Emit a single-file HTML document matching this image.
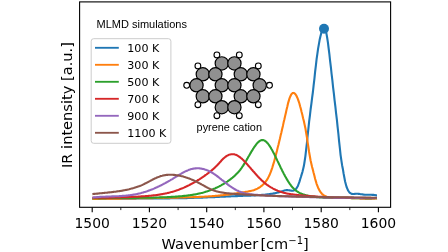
<!DOCTYPE html>
<html><head><meta charset="utf-8"><title>IR spectrum</title>
<style>
html,body{margin:0;padding:0;background:#fff;}
svg{display:block}
.dv{font-family:"DejaVu Sans","Liberation Sans",sans-serif;fill:#000}
.ar{font-family:"Liberation Sans","DejaVu Sans",sans-serif;fill:#000}
</style></head><body>
<svg width="448" height="252" viewBox="0 0 448 252">
<rect width="448" height="252" fill="#fff"/>
<path d="M92.4,199.0 L93.2,199.0 L93.9,199.0 L94.7,199.0 L95.4,198.9 L96.2,198.9 L96.9,198.9 L97.7,198.9 L98.4,198.9 L99.2,198.9 L99.9,198.9 L100.7,198.8 L101.4,198.8 L102.2,198.8 L102.9,198.8 L103.7,198.8 L104.4,198.8 L105.2,198.8 L105.9,198.8 L106.7,198.8 L107.4,198.7 L108.2,198.7 L108.9,198.7 L109.7,198.7 L110.4,198.7 L111.2,198.7 L111.9,198.7 L112.7,198.7 L113.4,198.7 L114.2,198.7 L114.9,198.7 L115.7,198.7 L116.4,198.7 L117.2,198.6 L117.9,198.6 L118.7,198.6 L119.4,198.6 L120.2,198.6 L120.9,198.6 L121.7,198.6 L122.4,198.6 L123.2,198.6 L123.9,198.6 L124.7,198.6 L125.4,198.6 L126.2,198.6 L126.9,198.6 L127.7,198.6 L128.4,198.6 L129.2,198.6 L129.9,198.6 L130.7,198.6 L131.4,198.6 L132.2,198.6 L132.9,198.6 L133.7,198.6 L134.4,198.6 L135.2,198.6 L135.9,198.6 L136.7,198.5 L137.4,198.5 L138.2,198.5 L138.9,198.5 L139.7,198.5 L140.4,198.5 L141.2,198.5 L141.9,198.5 L142.7,198.5 L143.4,198.5 L144.2,198.5 L144.9,198.5 L145.7,198.5 L146.4,198.5 L147.2,198.5 L147.9,198.5 L148.7,198.5 L149.4,198.5 L150.2,198.5 L150.9,198.5 L151.7,198.5 L152.4,198.5 L153.2,198.5 L153.9,198.5 L154.7,198.5 L155.4,198.5 L156.2,198.5 L156.9,198.5 L157.7,198.5 L158.4,198.5 L159.2,198.5 L159.9,198.4 L160.7,198.4 L161.4,198.4 L162.2,198.4 L162.9,198.4 L163.7,198.4 L164.4,198.4 L165.2,198.4 L165.9,198.4 L166.7,198.4 L167.4,198.4 L168.2,198.4 L168.9,198.4 L169.7,198.4 L170.4,198.3 L171.2,198.3 L171.9,198.3 L172.7,198.3 L173.4,198.3 L174.2,198.3 L174.9,198.3 L175.7,198.3 L176.4,198.3 L177.2,198.3 L177.9,198.2 L178.7,198.2 L179.4,198.2 L180.2,198.2 L180.9,198.2 L181.7,198.2 L182.4,198.2 L183.2,198.1 L183.9,198.1 L184.7,198.1 L185.4,198.1 L186.2,198.1 L186.9,198.1 L187.7,198.0 L188.4,198.0 L189.2,198.0 L189.9,198.0 L190.7,198.0 L191.4,197.9 L192.2,197.9 L192.9,197.9 L193.7,197.9 L194.4,197.8 L195.2,197.8 L195.9,197.8 L196.7,197.8 L197.4,197.7 L198.2,197.7 L198.9,197.7 L199.7,197.7 L200.4,197.6 L201.2,197.6 L201.9,197.6 L202.7,197.6 L203.4,197.5 L204.2,197.5 L204.9,197.5 L205.7,197.4 L206.4,197.4 L207.2,197.4 L207.9,197.3 L208.7,197.3 L209.4,197.3 L210.2,197.2 L210.9,197.2 L211.7,197.2 L212.4,197.2 L213.2,197.1 L213.9,197.1 L214.7,197.1 L215.4,197.0 L216.2,197.0 L216.9,197.0 L217.7,196.9 L218.4,196.9 L219.2,196.9 L219.9,196.8 L220.7,196.8 L221.4,196.8 L222.2,196.7 L222.9,196.7 L223.7,196.7 L224.4,196.6 L225.2,196.6 L225.9,196.5 L226.7,196.5 L227.4,196.5 L228.2,196.4 L228.9,196.4 L229.7,196.4 L230.4,196.4 L231.2,196.3 L231.9,196.3 L232.7,196.3 L233.4,196.2 L234.2,196.2 L234.9,196.2 L235.7,196.1 L236.4,196.1 L237.2,196.1 L237.9,196.0 L238.7,196.0 L239.4,196.0 L240.2,195.9 L240.9,195.9 L241.7,195.9 L242.4,195.9 L243.2,195.8 L243.9,195.8 L244.7,195.8 L245.4,195.8 L246.2,195.7 L246.9,195.7 L247.7,195.7 L248.4,195.7 L249.2,195.6 L249.9,195.6 L250.7,195.6 L251.4,195.5 L252.2,195.5 L252.9,195.5 L253.7,195.4 L254.4,195.4 L255.2,195.4 L255.9,195.3 L256.6,195.3 L257.4,195.3 L258.1,195.2 L258.9,195.2 L259.6,195.1 L260.4,195.1 L261.1,195.0 L261.9,194.9 L262.6,194.9 L263.4,194.8 L264.1,194.7 L264.9,194.7 L265.6,194.6 L266.4,194.5 L267.1,194.4 L267.9,194.3 L268.6,194.2 L269.4,194.1 L270.1,194.0 L270.9,193.9 L271.6,193.8 L272.4,193.7 L273.1,193.5 L273.9,193.4 L274.6,193.3 L275.4,193.1 L276.1,192.9 L276.9,192.8 L277.6,192.6 L278.4,192.4 L279.1,192.2 L279.9,192.0 L280.6,191.7 L281.4,191.5 L282.1,191.2 L282.9,191.0 L283.6,190.7 L284.4,190.5 L285.1,190.3 L285.9,190.2 L286.6,190.1 L287.4,190.1 L288.1,190.2 L288.9,190.3 L289.6,190.4 L290.4,190.5 L291.1,190.6 L291.9,190.7 L292.6,190.7 L293.4,190.6 L294.1,190.4 L294.9,190.0 L295.6,189.4 L296.4,188.5 L297.1,187.3 L297.9,185.9 L298.6,184.0 L299.4,181.9 L300.1,179.5 L300.9,177.0 L301.6,174.6 L302.4,172.1 L303.1,169.2 L303.9,165.8 L304.6,161.5 L305.4,156.1 L306.1,149.9 L306.9,143.0 L307.6,135.8 L308.4,128.7 L309.1,121.9 L309.9,115.6 L310.6,109.5 L311.4,103.7 L312.1,97.9 L312.9,92.0 L313.6,85.6 L314.4,78.8 L315.1,71.9 L315.9,65.3 L316.6,59.2 L317.4,53.6 L318.1,48.6 L318.9,44.1 L319.6,40.1 L320.4,36.6 L321.1,33.7 L321.9,31.3 L322.6,29.5 L323.4,28.4 L324.1,28.2 L324.9,28.9 L325.6,30.6 L326.4,33.4 L327.1,37.3 L327.9,42.3 L328.6,48.0 L329.4,54.3 L330.1,60.8 L330.9,67.3 L331.6,74.0 L332.4,80.6 L333.1,87.3 L333.9,93.9 L334.6,100.4 L335.4,106.9 L336.1,113.3 L336.9,119.9 L337.6,126.8 L338.4,134.0 L339.1,141.4 L339.9,148.5 L340.6,155.1 L341.4,160.7 L342.1,165.2 L342.9,169.2 L343.6,173.5 L344.4,177.8 L345.1,181.5 L345.9,184.5 L346.6,187.0 L347.4,188.9 L348.1,190.5 L348.9,191.7 L349.6,192.6 L350.4,193.2 L351.1,193.6 L351.9,193.9 L352.6,194.0 L353.4,194.0 L354.1,194.0 L354.9,193.9 L355.6,193.8 L356.4,193.7 L357.1,193.7 L357.9,193.8 L358.6,193.9 L359.4,193.9 L360.1,194.1 L360.9,194.2 L361.6,194.3 L362.4,194.4 L363.1,194.5 L363.9,194.6 L364.6,194.7 L365.4,194.8 L366.1,194.8 L366.9,194.8 L367.6,194.8 L368.4,194.8 L369.1,194.8 L369.9,194.8 L370.6,194.8 L371.4,194.8 L372.1,194.9 L372.9,194.9 L373.6,194.9 L374.4,195.0 L375.1,195.1 L375.9,195.2 L376.6,195.4 L377.0,195.4" fill="none" stroke="#1f77b4" stroke-width="2.1" stroke-linejoin="round" stroke-linecap="butt"/>
<path d="M92.4,198.9 L93.2,198.9 L93.9,198.9 L94.7,198.9 L95.4,198.9 L96.2,198.9 L96.9,198.9 L97.7,198.9 L98.4,198.8 L99.2,198.8 L99.9,198.8 L100.7,198.8 L101.4,198.8 L102.2,198.8 L102.9,198.8 L103.7,198.8 L104.4,198.8 L105.2,198.8 L105.9,198.8 L106.7,198.7 L107.4,198.7 L108.2,198.7 L108.9,198.7 L109.7,198.7 L110.4,198.7 L111.2,198.7 L111.9,198.7 L112.7,198.7 L113.4,198.7 L114.2,198.6 L114.9,198.6 L115.7,198.6 L116.4,198.6 L117.2,198.6 L117.9,198.6 L118.7,198.6 L119.4,198.6 L120.2,198.6 L120.9,198.6 L121.7,198.5 L122.4,198.5 L123.2,198.5 L123.9,198.5 L124.7,198.5 L125.4,198.5 L126.2,198.5 L126.9,198.5 L127.7,198.5 L128.4,198.5 L129.2,198.4 L129.9,198.4 L130.7,198.4 L131.4,198.4 L132.2,198.4 L132.9,198.4 L133.7,198.4 L134.4,198.4 L135.2,198.4 L135.9,198.3 L136.7,198.3 L137.4,198.3 L138.2,198.3 L138.9,198.3 L139.7,198.3 L140.4,198.3 L141.2,198.3 L141.9,198.3 L142.7,198.2 L143.4,198.2 L144.2,198.2 L144.9,198.2 L145.7,198.2 L146.4,198.2 L147.2,198.2 L147.9,198.2 L148.7,198.1 L149.4,198.1 L150.2,198.1 L150.9,198.1 L151.7,198.1 L152.4,198.1 L153.2,198.1 L153.9,198.0 L154.7,198.0 L155.4,198.0 L156.2,198.0 L156.9,198.0 L157.7,198.0 L158.4,198.0 L159.2,197.9 L159.9,197.9 L160.7,197.9 L161.4,197.9 L162.2,197.9 L162.9,197.9 L163.7,197.9 L164.4,197.8 L165.2,197.8 L165.9,197.8 L166.7,197.8 L167.4,197.8 L168.2,197.8 L168.9,197.8 L169.7,197.7 L170.4,197.7 L171.2,197.7 L171.9,197.7 L172.7,197.7 L173.4,197.7 L174.2,197.6 L174.9,197.6 L175.7,197.6 L176.4,197.6 L177.2,197.6 L177.9,197.6 L178.7,197.5 L179.4,197.5 L180.2,197.5 L180.9,197.5 L181.7,197.5 L182.4,197.4 L183.2,197.4 L183.9,197.4 L184.7,197.4 L185.4,197.4 L186.2,197.3 L186.9,197.3 L187.7,197.3 L188.4,197.3 L189.2,197.3 L189.9,197.2 L190.7,197.2 L191.4,197.2 L192.2,197.2 L192.9,197.1 L193.7,197.1 L194.4,197.1 L195.2,197.1 L195.9,197.0 L196.7,197.0 L197.4,197.0 L198.2,197.0 L198.9,196.9 L199.7,196.9 L200.4,196.9 L201.2,196.8 L201.9,196.8 L202.7,196.7 L203.4,196.7 L204.2,196.7 L204.9,196.6 L205.7,196.6 L206.4,196.5 L207.2,196.5 L207.9,196.5 L208.7,196.4 L209.4,196.4 L210.2,196.3 L210.9,196.3 L211.7,196.2 L212.4,196.1 L213.2,196.1 L213.9,196.0 L214.7,196.0 L215.4,195.9 L216.2,195.8 L216.9,195.8 L217.7,195.7 L218.4,195.6 L219.2,195.6 L219.9,195.5 L220.7,195.4 L221.4,195.3 L222.2,195.3 L222.9,195.2 L223.7,195.1 L224.4,195.0 L225.2,194.9 L225.9,194.8 L226.7,194.7 L227.4,194.6 L228.2,194.6 L228.9,194.5 L229.7,194.4 L230.4,194.3 L231.2,194.1 L231.9,194.0 L232.7,193.9 L233.4,193.8 L234.2,193.7 L234.9,193.6 L235.7,193.5 L236.4,193.4 L237.2,193.3 L237.9,193.1 L238.7,193.0 L239.4,192.9 L240.2,192.8 L240.9,192.7 L241.7,192.5 L242.4,192.4 L243.2,192.3 L243.9,192.2 L244.7,192.1 L245.4,191.9 L246.2,191.8 L246.9,191.7 L247.7,191.6 L248.4,191.4 L249.2,191.3 L249.9,191.1 L250.7,191.0 L251.4,190.8 L252.2,190.6 L252.9,190.4 L253.7,190.2 L254.4,189.9 L255.2,189.6 L255.9,189.3 L256.6,189.0 L257.4,188.6 L258.1,188.2 L258.9,187.8 L259.6,187.3 L260.4,186.8 L261.1,186.2 L261.9,185.6 L262.6,185.0 L263.4,184.3 L264.1,183.5 L264.9,182.7 L265.6,181.7 L266.4,180.7 L267.1,179.6 L267.9,178.3 L268.6,176.9 L269.4,175.3 L270.1,173.6 L270.9,171.7 L271.6,169.6 L272.4,167.3 L273.1,164.9 L273.9,162.4 L274.6,159.7 L275.4,156.9 L276.1,154.1 L276.9,151.1 L277.6,148.1 L278.4,145.0 L279.1,141.9 L279.9,138.8 L280.6,135.6 L281.4,132.4 L282.1,129.2 L282.9,125.9 L283.6,122.6 L284.4,119.3 L285.1,116.1 L285.9,112.7 L286.6,109.4 L287.4,106.2 L288.1,103.1 L288.9,100.4 L289.6,98.1 L290.4,96.2 L291.1,94.7 L291.9,93.7 L292.6,93.1 L293.4,92.9 L294.1,93.1 L294.9,93.6 L295.6,94.5 L296.4,95.7 L297.1,97.2 L297.9,99.1 L298.6,101.2 L299.4,103.5 L300.1,106.2 L300.9,109.0 L301.6,112.0 L302.4,115.1 L303.1,118.3 L303.9,121.3 L304.6,124.6 L305.4,128.2 L306.1,132.5 L306.9,137.2 L307.6,142.2 L308.4,147.2 L309.1,152.0 L309.9,156.5 L310.6,160.5 L311.4,163.9 L312.1,167.0 L312.9,169.9 L313.6,172.8 L314.4,175.8 L315.1,178.7 L315.9,181.4 L316.6,183.8 L317.4,185.9 L318.1,187.7 L318.9,189.3 L319.6,190.7 L320.4,191.8 L321.1,192.8 L321.9,193.7 L322.6,194.4 L323.4,195.0 L324.1,195.5 L324.9,195.9 L325.6,196.3 L326.4,196.6 L327.1,196.9 L327.9,197.1 L328.6,197.3 L329.4,197.4 L330.1,197.5 L330.9,197.6 L331.6,197.7 L332.4,197.7 L333.1,197.7 L333.9,197.7 L334.6,197.7 L335.4,197.7 L336.1,197.7 L336.9,197.7 L337.6,197.7 L338.4,197.7 L339.1,197.7 L339.9,197.8 L340.6,197.8 L341.4,197.8 L342.1,197.8 L342.9,197.8 L343.6,197.8 L344.4,197.8 L345.1,197.9 L345.9,197.9 L346.6,197.9 L347.4,197.9 L348.1,198.0 L348.9,198.0 L349.6,198.0 L350.4,198.0 L351.1,198.1 L351.9,198.1 L352.6,198.1 L353.4,198.1 L354.1,198.2 L354.9,198.2 L355.6,198.2 L356.4,198.2 L357.1,198.3 L357.9,198.3 L358.6,198.3 L359.4,198.3 L360.1,198.4 L360.9,198.4 L361.6,198.4 L362.4,198.4 L363.1,198.4 L363.9,198.5 L364.6,198.5 L365.4,198.5 L366.1,198.5 L366.9,198.5 L367.6,198.5 L368.4,198.5 L369.1,198.5 L369.9,198.5 L370.6,198.5 L371.4,198.5 L372.1,198.5 L372.9,198.5 L373.6,198.5 L374.4,198.5 L375.1,198.5 L375.9,198.5 L376.6,198.5 L377.0,198.4" fill="none" stroke="#ff7f0e" stroke-width="2.1" stroke-linejoin="round" stroke-linecap="butt"/>
<path d="M92.4,198.3 L93.2,198.3 L93.9,198.3 L94.7,198.3 L95.4,198.3 L96.2,198.2 L96.9,198.2 L97.7,198.2 L98.4,198.2 L99.2,198.2 L99.9,198.2 L100.7,198.1 L101.4,198.1 L102.2,198.1 L102.9,198.1 L103.7,198.1 L104.4,198.1 L105.2,198.1 L105.9,198.1 L106.7,198.0 L107.4,198.0 L108.2,198.0 L108.9,198.0 L109.7,198.0 L110.4,198.0 L111.2,198.0 L111.9,198.0 L112.7,198.0 L113.4,198.0 L114.2,198.0 L114.9,198.0 L115.7,198.0 L116.4,198.0 L117.2,198.0 L117.9,198.0 L118.7,198.0 L119.4,198.0 L120.2,197.9 L120.9,197.9 L121.7,197.9 L122.4,197.9 L123.2,197.9 L123.9,197.9 L124.7,197.9 L125.4,197.9 L126.2,197.9 L126.9,197.9 L127.7,197.9 L128.4,197.9 L129.2,197.9 L129.9,197.9 L130.7,197.9 L131.4,197.9 L132.2,197.9 L132.9,197.9 L133.7,197.9 L134.4,197.9 L135.2,197.9 L135.9,197.9 L136.7,197.9 L137.4,197.9 L138.2,197.9 L138.9,197.9 L139.7,197.8 L140.4,197.8 L141.2,197.8 L141.9,197.8 L142.7,197.8 L143.4,197.8 L144.2,197.8 L144.9,197.8 L145.7,197.8 L146.4,197.8 L147.2,197.8 L147.9,197.7 L148.7,197.7 L149.4,197.7 L150.2,197.7 L150.9,197.7 L151.7,197.7 L152.4,197.7 L153.2,197.6 L153.9,197.6 L154.7,197.6 L155.4,197.6 L156.2,197.6 L156.9,197.5 L157.7,197.5 L158.4,197.5 L159.2,197.5 L159.9,197.4 L160.7,197.4 L161.4,197.4 L162.2,197.4 L162.9,197.3 L163.7,197.3 L164.4,197.3 L165.2,197.2 L165.9,197.2 L166.7,197.2 L167.4,197.1 L168.2,197.1 L168.9,197.0 L169.7,197.0 L170.4,197.0 L171.2,196.9 L171.9,196.9 L172.7,196.8 L173.4,196.8 L174.2,196.7 L174.9,196.7 L175.7,196.6 L176.4,196.6 L177.2,196.5 L177.9,196.5 L178.7,196.4 L179.4,196.4 L180.2,196.3 L180.9,196.2 L181.7,196.2 L182.4,196.1 L183.2,196.0 L183.9,195.9 L184.7,195.9 L185.4,195.8 L186.2,195.7 L186.9,195.6 L187.7,195.5 L188.4,195.4 L189.2,195.3 L189.9,195.2 L190.7,195.1 L191.4,195.0 L192.2,194.9 L192.9,194.8 L193.7,194.6 L194.4,194.5 L195.2,194.4 L195.9,194.2 L196.7,194.1 L197.4,193.9 L198.2,193.8 L198.9,193.6 L199.7,193.4 L200.4,193.3 L201.2,193.1 L201.9,192.9 L202.7,192.7 L203.4,192.5 L204.2,192.3 L204.9,192.1 L205.7,191.8 L206.4,191.6 L207.2,191.4 L207.9,191.1 L208.7,190.9 L209.4,190.6 L210.2,190.3 L210.9,190.0 L211.7,189.8 L212.4,189.5 L213.2,189.1 L213.9,188.8 L214.7,188.5 L215.4,188.2 L216.2,187.8 L216.9,187.5 L217.7,187.1 L218.4,186.8 L219.2,186.4 L219.9,186.0 L220.7,185.6 L221.4,185.2 L222.2,184.7 L222.9,184.3 L223.7,183.9 L224.4,183.4 L225.2,182.9 L225.9,182.5 L226.7,182.0 L227.4,181.5 L228.2,180.9 L228.9,180.4 L229.7,179.9 L230.4,179.3 L231.2,178.7 L231.9,178.2 L232.7,177.5 L233.4,176.9 L234.2,176.2 L234.9,175.6 L235.7,174.8 L236.4,174.1 L237.2,173.3 L237.9,172.5 L238.7,171.7 L239.4,170.8 L240.2,169.8 L240.9,168.8 L241.7,167.8 L242.4,166.7 L243.2,165.6 L243.9,164.4 L244.7,163.2 L245.4,162.0 L246.2,160.7 L246.9,159.4 L247.7,158.1 L248.4,156.8 L249.2,155.5 L249.9,154.2 L250.7,152.9 L251.4,151.6 L252.2,150.4 L252.9,149.2 L253.7,148.0 L254.4,146.9 L255.2,145.8 L255.9,144.8 L256.6,143.9 L257.4,143.0 L258.1,142.3 L258.9,141.6 L259.6,141.0 L260.4,140.6 L261.1,140.3 L261.9,140.1 L262.6,140.0 L263.4,140.1 L264.1,140.4 L264.9,140.8 L265.6,141.3 L266.4,141.9 L267.1,142.7 L267.9,143.5 L268.6,144.5 L269.4,145.6 L270.1,146.7 L270.9,147.9 L271.6,149.2 L272.4,150.6 L273.1,152.0 L273.9,153.4 L274.6,154.9 L275.4,156.5 L276.1,158.0 L276.9,159.6 L277.6,161.1 L278.4,162.7 L279.1,164.3 L279.9,165.8 L280.6,167.4 L281.4,168.9 L282.1,170.4 L282.9,171.9 L283.6,173.4 L284.4,174.8 L285.1,176.2 L285.9,177.5 L286.6,178.9 L287.4,180.1 L288.1,181.3 L288.9,182.5 L289.6,183.6 L290.4,184.7 L291.1,185.7 L291.9,186.6 L292.6,187.5 L293.4,188.3 L294.1,189.0 L294.9,189.7 L295.6,190.3 L296.4,190.9 L297.1,191.4 L297.9,191.9 L298.6,192.4 L299.4,192.8 L300.1,193.2 L300.9,193.5 L301.6,193.8 L302.4,194.1 L303.1,194.4 L303.9,194.6 L304.6,194.8 L305.4,195.0 L306.1,195.2 L306.9,195.4 L307.6,195.6 L308.4,195.8 L309.1,195.9 L309.9,196.1 L310.6,196.2 L311.4,196.4 L312.1,196.5 L312.9,196.6 L313.6,196.7 L314.4,196.8 L315.1,196.9 L315.9,197.0 L316.6,197.1 L317.4,197.2 L318.1,197.2 L318.9,197.3 L319.6,197.4 L320.4,197.4 L321.1,197.5 L321.9,197.5 L322.6,197.5 L323.4,197.6 L324.1,197.6 L324.9,197.6 L325.6,197.7 L326.4,197.7 L327.1,197.7 L327.9,197.7 L328.6,197.7 L329.4,197.7 L330.1,197.7 L330.9,197.7 L331.6,197.7 L332.4,197.8 L333.1,197.8 L333.9,197.8 L334.6,197.8 L335.4,197.8 L336.1,197.8 L336.9,197.8 L337.6,197.8 L338.4,197.8 L339.1,197.8 L339.9,197.8 L340.6,197.8 L341.4,197.8 L342.1,197.8 L342.9,197.8 L343.6,197.8 L344.4,197.9 L345.1,197.9 L345.9,197.9 L346.6,197.9 L347.4,197.9 L348.1,197.9 L348.9,198.0 L349.6,198.0 L350.4,198.0 L351.1,198.0 L351.9,198.1 L352.6,198.1 L353.4,198.1 L354.1,198.1 L354.9,198.1 L355.6,198.2 L356.4,198.2 L357.1,198.2 L357.9,198.2 L358.6,198.2 L359.4,198.2 L360.1,198.3 L360.9,198.3 L361.6,198.3 L362.4,198.3 L363.1,198.3 L363.9,198.3 L364.6,198.3 L365.4,198.4 L366.1,198.4 L366.9,198.4 L367.6,198.4 L368.4,198.4 L369.1,198.4 L369.9,198.4 L370.6,198.4 L371.4,198.4 L372.1,198.3 L372.9,198.3 L373.6,198.3 L374.4,198.3 L375.1,198.3 L375.9,198.3 L376.6,198.2 L377.0,198.2" fill="none" stroke="#2ca02c" stroke-width="2.1" stroke-linejoin="round" stroke-linecap="butt"/>
<path d="M92.4,197.8 L93.2,197.8 L93.9,197.8 L94.7,197.8 L95.4,197.8 L96.2,197.8 L96.9,197.8 L97.7,197.8 L98.4,197.8 L99.2,197.8 L99.9,197.7 L100.7,197.7 L101.4,197.7 L102.2,197.7 L102.9,197.7 L103.7,197.7 L104.4,197.7 L105.2,197.7 L105.9,197.7 L106.7,197.6 L107.4,197.6 L108.2,197.6 L108.9,197.6 L109.7,197.6 L110.4,197.6 L111.2,197.6 L111.9,197.5 L112.7,197.5 L113.4,197.5 L114.2,197.5 L114.9,197.5 L115.7,197.5 L116.4,197.4 L117.2,197.4 L117.9,197.4 L118.7,197.4 L119.4,197.4 L120.2,197.3 L120.9,197.3 L121.7,197.3 L122.4,197.3 L123.2,197.3 L123.9,197.2 L124.7,197.2 L125.4,197.2 L126.2,197.1 L126.9,197.1 L127.7,197.1 L128.4,197.1 L129.2,197.0 L129.9,197.0 L130.7,197.0 L131.4,196.9 L132.2,196.9 L132.9,196.9 L133.7,196.8 L134.4,196.8 L135.2,196.8 L135.9,196.7 L136.7,196.7 L137.4,196.7 L138.2,196.6 L138.9,196.6 L139.7,196.5 L140.4,196.5 L141.2,196.4 L141.9,196.4 L142.7,196.3 L143.4,196.3 L144.2,196.2 L144.9,196.2 L145.7,196.1 L146.4,196.1 L147.2,196.0 L147.9,196.0 L148.7,195.9 L149.4,195.8 L150.2,195.8 L150.9,195.7 L151.7,195.6 L152.4,195.5 L153.2,195.4 L153.9,195.3 L154.7,195.3 L155.4,195.2 L156.2,195.1 L156.9,195.0 L157.7,194.9 L158.4,194.7 L159.2,194.6 L159.9,194.5 L160.7,194.4 L161.4,194.3 L162.2,194.1 L162.9,194.0 L163.7,193.8 L164.4,193.7 L165.2,193.5 L165.9,193.4 L166.7,193.2 L167.4,193.0 L168.2,192.9 L168.9,192.7 L169.7,192.5 L170.4,192.3 L171.2,192.1 L171.9,191.9 L172.7,191.7 L173.4,191.4 L174.2,191.2 L174.9,191.0 L175.7,190.7 L176.4,190.5 L177.2,190.2 L177.9,190.0 L178.7,189.7 L179.4,189.4 L180.2,189.1 L180.9,188.8 L181.7,188.5 L182.4,188.2 L183.2,187.9 L183.9,187.6 L184.7,187.2 L185.4,186.9 L186.2,186.6 L186.9,186.2 L187.7,185.8 L188.4,185.5 L189.2,185.1 L189.9,184.7 L190.7,184.3 L191.4,183.9 L192.2,183.5 L192.9,183.1 L193.7,182.7 L194.4,182.3 L195.2,181.8 L195.9,181.4 L196.7,181.0 L197.4,180.5 L198.2,180.0 L198.9,179.6 L199.7,179.1 L200.4,178.6 L201.2,178.1 L201.9,177.6 L202.7,177.1 L203.4,176.6 L204.2,176.1 L204.9,175.5 L205.7,175.0 L206.4,174.5 L207.2,173.9 L207.9,173.3 L208.7,172.8 L209.4,172.2 L210.2,171.6 L210.9,171.0 L211.7,170.4 L212.4,169.7 L213.2,169.1 L213.9,168.4 L214.7,167.7 L215.4,167.0 L216.2,166.3 L216.9,165.5 L217.7,164.8 L218.4,164.0 L219.2,163.1 L219.9,162.3 L220.7,161.5 L221.4,160.6 L222.2,159.8 L222.9,159.1 L223.7,158.3 L224.4,157.7 L225.2,157.0 L225.9,156.5 L226.7,156.0 L227.4,155.5 L228.2,155.2 L228.9,154.8 L229.7,154.6 L230.4,154.4 L231.2,154.2 L231.9,154.2 L232.7,154.2 L233.4,154.2 L234.2,154.3 L234.9,154.5 L235.7,154.7 L236.4,155.0 L237.2,155.4 L237.9,155.8 L238.7,156.3 L239.4,156.8 L240.2,157.4 L240.9,158.0 L241.7,158.6 L242.4,159.3 L243.2,160.0 L243.9,160.8 L244.7,161.6 L245.4,162.4 L246.2,163.2 L246.9,164.0 L247.7,164.9 L248.4,165.7 L249.2,166.6 L249.9,167.4 L250.7,168.3 L251.4,169.2 L252.2,170.0 L252.9,170.9 L253.7,171.7 L254.4,172.6 L255.2,173.4 L255.9,174.3 L256.6,175.1 L257.4,175.9 L258.1,176.7 L258.9,177.5 L259.6,178.3 L260.4,179.0 L261.1,179.7 L261.9,180.5 L262.6,181.1 L263.4,181.8 L264.1,182.5 L264.9,183.1 L265.6,183.7 L266.4,184.3 L267.1,184.8 L267.9,185.3 L268.6,185.9 L269.4,186.4 L270.1,186.8 L270.9,187.3 L271.6,187.7 L272.4,188.2 L273.1,188.6 L273.9,189.0 L274.6,189.3 L275.4,189.7 L276.1,190.0 L276.9,190.3 L277.6,190.7 L278.4,191.0 L279.1,191.2 L279.9,191.5 L280.6,191.8 L281.4,192.0 L282.1,192.2 L282.9,192.5 L283.6,192.7 L284.4,192.9 L285.1,193.0 L285.9,193.2 L286.6,193.4 L287.4,193.6 L288.1,193.7 L288.9,193.8 L289.6,194.0 L290.4,194.1 L291.1,194.2 L291.9,194.3 L292.6,194.4 L293.4,194.5 L294.1,194.6 L294.9,194.7 L295.6,194.8 L296.4,194.9 L297.1,195.0 L297.9,195.1 L298.6,195.1 L299.4,195.2 L300.1,195.3 L300.9,195.3 L301.6,195.4 L302.4,195.5 L303.1,195.5 L303.9,195.6 L304.6,195.7 L305.4,195.7 L306.1,195.8 L306.9,195.9 L307.6,195.9 L308.4,196.0 L309.1,196.0 L309.9,196.1 L310.6,196.2 L311.4,196.2 L312.1,196.3 L312.9,196.3 L313.6,196.4 L314.4,196.4 L315.1,196.5 L315.9,196.5 L316.6,196.6 L317.4,196.6 L318.1,196.7 L318.9,196.7 L319.6,196.8 L320.4,196.8 L321.1,196.9 L321.9,196.9 L322.6,196.9 L323.4,197.0 L324.1,197.0 L324.9,197.1 L325.6,197.1 L326.4,197.1 L327.1,197.2 L327.9,197.2 L328.6,197.2 L329.4,197.3 L330.1,197.3 L330.9,197.3 L331.6,197.4 L332.4,197.4 L333.1,197.4 L333.9,197.5 L334.6,197.5 L335.4,197.5 L336.1,197.6 L336.9,197.6 L337.6,197.6 L338.4,197.6 L339.1,197.7 L339.9,197.7 L340.6,197.7 L341.4,197.7 L342.1,197.7 L342.9,197.8 L343.6,197.8 L344.4,197.8 L345.1,197.8 L345.9,197.8 L346.6,197.9 L347.4,197.9 L348.1,197.9 L348.9,197.9 L349.6,197.9 L350.4,197.9 L351.1,197.9 L351.9,198.0 L352.6,198.0 L353.4,198.0 L354.1,198.0 L354.9,198.0 L355.6,198.0 L356.4,198.0 L357.1,198.0 L357.9,198.0 L358.6,198.0 L359.4,198.0 L360.1,198.1 L360.9,198.1 L361.6,198.1 L362.4,198.1 L363.1,198.1 L363.9,198.1 L364.6,198.1 L365.4,198.1 L366.1,198.1 L366.9,198.1 L367.6,198.1 L368.4,198.1 L369.1,198.1 L369.9,198.1 L370.6,198.1 L371.4,198.1 L372.1,198.1 L372.9,198.1 L373.6,198.1 L374.4,198.1 L375.1,198.0 L375.9,198.0 L376.6,198.0 L377.0,198.0" fill="none" stroke="#d62728" stroke-width="2.1" stroke-linejoin="round" stroke-linecap="butt"/>
<path d="M92.4,197.5 L93.2,197.5 L93.9,197.4 L94.7,197.3 L95.4,197.2 L96.2,197.2 L96.9,197.1 L97.7,197.1 L98.4,197.0 L99.2,197.0 L99.9,196.9 L100.7,196.9 L101.4,196.8 L102.2,196.8 L102.9,196.8 L103.7,196.7 L104.4,196.7 L105.2,196.7 L105.9,196.6 L106.7,196.6 L107.4,196.6 L108.2,196.6 L108.9,196.5 L109.7,196.5 L110.4,196.5 L111.2,196.5 L111.9,196.4 L112.7,196.4 L113.4,196.4 L114.2,196.4 L114.9,196.3 L115.7,196.3 L116.4,196.3 L117.2,196.2 L117.9,196.2 L118.7,196.2 L119.4,196.1 L120.2,196.1 L120.9,196.0 L121.7,196.0 L122.4,195.9 L123.2,195.9 L123.9,195.8 L124.7,195.8 L125.4,195.7 L126.2,195.6 L126.9,195.6 L127.7,195.5 L128.4,195.4 L129.2,195.3 L129.9,195.2 L130.7,195.1 L131.4,195.0 L132.2,194.9 L132.9,194.8 L133.7,194.6 L134.4,194.5 L135.2,194.4 L135.9,194.2 L136.7,194.1 L137.4,193.9 L138.2,193.8 L138.9,193.6 L139.7,193.4 L140.4,193.2 L141.2,193.0 L141.9,192.8 L142.7,192.6 L143.4,192.4 L144.2,192.1 L144.9,191.9 L145.7,191.7 L146.4,191.4 L147.2,191.2 L147.9,190.9 L148.7,190.6 L149.4,190.4 L150.2,190.1 L150.9,189.8 L151.7,189.5 L152.4,189.2 L153.2,188.9 L153.9,188.6 L154.7,188.2 L155.4,187.9 L156.2,187.6 L156.9,187.2 L157.7,186.9 L158.4,186.5 L159.2,186.2 L159.9,185.8 L160.7,185.5 L161.4,185.1 L162.2,184.7 L162.9,184.3 L163.7,183.9 L164.4,183.5 L165.2,183.1 L165.9,182.7 L166.7,182.3 L167.4,181.9 L168.2,181.5 L168.9,181.0 L169.7,180.6 L170.4,180.2 L171.2,179.7 L171.9,179.3 L172.7,178.8 L173.4,178.3 L174.2,177.9 L174.9,177.4 L175.7,177.0 L176.4,176.5 L177.2,176.0 L177.9,175.6 L178.7,175.1 L179.4,174.6 L180.2,174.2 L180.9,173.8 L181.7,173.3 L182.4,172.9 L183.2,172.5 L183.9,172.1 L184.7,171.7 L185.4,171.3 L186.2,171.0 L186.9,170.7 L187.7,170.4 L188.4,170.1 L189.2,169.8 L189.9,169.6 L190.7,169.3 L191.4,169.1 L192.2,168.9 L192.9,168.8 L193.7,168.6 L194.4,168.5 L195.2,168.4 L195.9,168.4 L196.7,168.3 L197.4,168.3 L198.2,168.3 L198.9,168.3 L199.7,168.4 L200.4,168.5 L201.2,168.6 L201.9,168.7 L202.7,168.9 L203.4,169.0 L204.2,169.2 L204.9,169.5 L205.7,169.7 L206.4,170.0 L207.2,170.3 L207.9,170.6 L208.7,170.9 L209.4,171.3 L210.2,171.7 L210.9,172.1 L211.7,172.5 L212.4,172.9 L213.2,173.4 L213.9,173.9 L214.7,174.4 L215.4,174.9 L216.2,175.4 L216.9,176.0 L217.7,176.5 L218.4,177.1 L219.2,177.7 L219.9,178.3 L220.7,178.9 L221.4,179.5 L222.2,180.1 L222.9,180.6 L223.7,181.2 L224.4,181.8 L225.2,182.4 L225.9,183.0 L226.7,183.6 L227.4,184.2 L228.2,184.8 L228.9,185.3 L229.7,185.9 L230.4,186.4 L231.2,186.9 L231.9,187.4 L232.7,187.9 L233.4,188.4 L234.2,188.8 L234.9,189.3 L235.7,189.7 L236.4,190.1 L237.2,190.5 L237.9,190.8 L238.7,191.2 L239.4,191.5 L240.2,191.8 L240.9,192.1 L241.7,192.4 L242.4,192.6 L243.2,192.8 L243.9,193.0 L244.7,193.2 L245.4,193.4 L246.2,193.6 L246.9,193.7 L247.7,193.9 L248.4,194.0 L249.2,194.1 L249.9,194.2 L250.7,194.3 L251.4,194.4 L252.2,194.5 L252.9,194.5 L253.7,194.6 L254.4,194.7 L255.2,194.7 L255.9,194.8 L256.6,194.9 L257.4,194.9 L258.1,195.0 L258.9,195.0 L259.6,195.1 L260.4,195.1 L261.1,195.2 L261.9,195.2 L262.6,195.3 L263.4,195.3 L264.1,195.4 L264.9,195.4 L265.6,195.5 L266.4,195.5 L267.1,195.6 L267.9,195.6 L268.6,195.6 L269.4,195.7 L270.1,195.7 L270.9,195.8 L271.6,195.8 L272.4,195.8 L273.1,195.9 L273.9,195.9 L274.6,195.9 L275.4,196.0 L276.1,196.0 L276.9,196.0 L277.6,196.1 L278.4,196.1 L279.1,196.1 L279.9,196.2 L280.6,196.2 L281.4,196.2 L282.1,196.2 L282.9,196.3 L283.6,196.3 L284.4,196.3 L285.1,196.4 L285.9,196.4 L286.6,196.4 L287.4,196.4 L288.1,196.4 L288.9,196.5 L289.6,196.5 L290.4,196.5 L291.1,196.5 L291.9,196.6 L292.6,196.6 L293.4,196.6 L294.1,196.6 L294.9,196.7 L295.6,196.7 L296.4,196.7 L297.1,196.7 L297.9,196.7 L298.6,196.8 L299.4,196.8 L300.1,196.8 L300.9,196.8 L301.6,196.8 L302.4,196.9 L303.1,196.9 L303.9,196.9 L304.6,196.9 L305.4,196.9 L306.1,197.0 L306.9,197.0 L307.6,197.0 L308.4,197.0 L309.1,197.0 L309.9,197.1 L310.6,197.1 L311.4,197.1 L312.1,197.1 L312.9,197.1 L313.6,197.1 L314.4,197.2 L315.1,197.2 L315.9,197.2 L316.6,197.2 L317.4,197.2 L318.1,197.2 L318.9,197.3 L319.6,197.3 L320.4,197.3 L321.1,197.3 L321.9,197.3 L322.6,197.3 L323.4,197.4 L324.1,197.4 L324.9,197.4 L325.6,197.4 L326.4,197.4 L327.1,197.4 L327.9,197.4 L328.6,197.5 L329.4,197.5 L330.1,197.5 L330.9,197.5 L331.6,197.5 L332.4,197.5 L333.1,197.5 L333.9,197.6 L334.6,197.6 L335.4,197.6 L336.1,197.6 L336.9,197.6 L337.6,197.6 L338.4,197.6 L339.1,197.6 L339.9,197.7 L340.6,197.7 L341.4,197.7 L342.1,197.7 L342.9,197.7 L343.6,197.7 L344.4,197.7 L345.1,197.7 L345.9,197.7 L346.6,197.7 L347.4,197.8 L348.1,197.8 L348.9,197.8 L349.6,197.8 L350.4,197.8 L351.1,197.8 L351.9,197.8 L352.6,197.8 L353.4,197.8 L354.1,197.8 L354.9,197.8 L355.6,197.9 L356.4,197.9 L357.1,197.9 L357.9,197.9 L358.6,197.9 L359.4,197.9 L360.1,197.9 L360.9,197.9 L361.6,197.9 L362.4,197.9 L363.1,197.9 L363.9,197.9 L364.6,197.9 L365.4,197.9 L366.1,198.0 L366.9,198.0 L367.6,198.0 L368.4,198.0 L369.1,198.0 L369.9,198.0 L370.6,198.0 L371.4,198.0 L372.1,198.0 L372.9,198.0 L373.6,198.0 L374.4,198.0 L375.1,198.0 L375.9,198.0 L376.6,198.0 L377.0,198.0" fill="none" stroke="#9467bd" stroke-width="2.1" stroke-linejoin="round" stroke-linecap="butt"/>
<path d="M92.4,194.1 L93.2,194.0 L93.9,193.9 L94.7,193.9 L95.4,193.8 L96.2,193.7 L96.9,193.6 L97.7,193.6 L98.4,193.5 L99.2,193.4 L99.9,193.3 L100.7,193.3 L101.4,193.2 L102.2,193.1 L102.9,193.0 L103.7,193.0 L104.4,192.9 L105.2,192.8 L105.9,192.8 L106.7,192.7 L107.4,192.6 L108.2,192.5 L108.9,192.4 L109.7,192.4 L110.4,192.3 L111.2,192.2 L111.9,192.1 L112.7,192.0 L113.4,191.9 L114.2,191.8 L114.9,191.7 L115.7,191.7 L116.4,191.5 L117.2,191.4 L117.9,191.3 L118.7,191.2 L119.4,191.1 L120.2,191.0 L120.9,190.9 L121.7,190.7 L122.4,190.6 L123.2,190.5 L123.9,190.3 L124.7,190.2 L125.4,190.0 L126.2,189.9 L126.9,189.7 L127.7,189.6 L128.4,189.4 L129.2,189.2 L129.9,189.0 L130.7,188.8 L131.4,188.6 L132.2,188.4 L132.9,188.2 L133.7,188.0 L134.4,187.8 L135.2,187.6 L135.9,187.3 L136.7,187.1 L137.4,186.8 L138.2,186.6 L138.9,186.3 L139.7,186.0 L140.4,185.7 L141.2,185.4 L141.9,185.1 L142.7,184.7 L143.4,184.4 L144.2,184.0 L144.9,183.6 L145.7,183.3 L146.4,182.9 L147.2,182.5 L147.9,182.1 L148.7,181.7 L149.4,181.3 L150.2,180.9 L150.9,180.5 L151.7,180.1 L152.4,179.7 L153.2,179.3 L153.9,178.9 L154.7,178.6 L155.4,178.2 L156.2,177.9 L156.9,177.5 L157.7,177.2 L158.4,176.9 L159.2,176.7 L159.9,176.4 L160.7,176.1 L161.4,175.9 L162.2,175.7 L162.9,175.5 L163.7,175.4 L164.4,175.2 L165.2,175.1 L165.9,175.0 L166.7,174.9 L167.4,174.9 L168.2,174.8 L168.9,174.8 L169.7,174.8 L170.4,174.7 L171.2,174.8 L171.9,174.8 L172.7,174.8 L173.4,174.9 L174.2,174.9 L174.9,175.0 L175.7,175.1 L176.4,175.2 L177.2,175.3 L177.9,175.4 L178.7,175.5 L179.4,175.7 L180.2,175.8 L180.9,176.0 L181.7,176.2 L182.4,176.3 L183.2,176.5 L183.9,176.8 L184.7,177.0 L185.4,177.2 L186.2,177.5 L186.9,177.7 L187.7,178.0 L188.4,178.2 L189.2,178.5 L189.9,178.8 L190.7,179.1 L191.4,179.4 L192.2,179.7 L192.9,180.1 L193.7,180.4 L194.4,180.7 L195.2,181.1 L195.9,181.4 L196.7,181.8 L197.4,182.2 L198.2,182.6 L198.9,183.0 L199.7,183.4 L200.4,183.8 L201.2,184.2 L201.9,184.6 L202.7,185.0 L203.4,185.4 L204.2,185.8 L204.9,186.3 L205.7,186.7 L206.4,187.1 L207.2,187.5 L207.9,187.9 L208.7,188.3 L209.4,188.6 L210.2,189.0 L210.9,189.3 L211.7,189.6 L212.4,190.0 L213.2,190.2 L213.9,190.5 L214.7,190.7 L215.4,191.0 L216.2,191.2 L216.9,191.4 L217.7,191.6 L218.4,191.7 L219.2,191.9 L219.9,192.1 L220.7,192.2 L221.4,192.4 L222.2,192.5 L222.9,192.6 L223.7,192.7 L224.4,192.9 L225.2,193.0 L225.9,193.1 L226.7,193.2 L227.4,193.2 L228.2,193.3 L228.9,193.4 L229.7,193.5 L230.4,193.6 L231.2,193.6 L231.9,193.7 L232.7,193.7 L233.4,193.8 L234.2,193.9 L234.9,193.9 L235.7,194.0 L236.4,194.0 L237.2,194.1 L237.9,194.1 L238.7,194.2 L239.4,194.2 L240.2,194.3 L240.9,194.3 L241.7,194.3 L242.4,194.4 L243.2,194.4 L243.9,194.5 L244.7,194.5 L245.4,194.6 L246.2,194.6 L246.9,194.7 L247.7,194.7 L248.4,194.7 L249.2,194.8 L249.9,194.8 L250.7,194.9 L251.4,194.9 L252.2,194.9 L252.9,195.0 L253.7,195.0 L254.4,195.1 L255.2,195.1 L255.9,195.1 L256.6,195.2 L257.4,195.2 L258.1,195.2 L258.9,195.3 L259.6,195.3 L260.4,195.3 L261.1,195.4 L261.9,195.4 L262.6,195.4 L263.4,195.5 L264.1,195.5 L264.9,195.5 L265.6,195.6 L266.4,195.6 L267.1,195.6 L267.9,195.7 L268.6,195.7 L269.4,195.7 L270.1,195.7 L270.9,195.8 L271.6,195.8 L272.4,195.8 L273.1,195.9 L273.9,195.9 L274.6,195.9 L275.4,195.9 L276.1,196.0 L276.9,196.0 L277.6,196.0 L278.4,196.0 L279.1,196.1 L279.9,196.1 L280.6,196.1 L281.4,196.1 L282.1,196.2 L282.9,196.2 L283.6,196.2 L284.4,196.2 L285.1,196.3 L285.9,196.3 L286.6,196.3 L287.4,196.3 L288.1,196.3 L288.9,196.4 L289.6,196.4 L290.4,196.4 L291.1,196.4 L291.9,196.4 L292.6,196.5 L293.4,196.5 L294.1,196.5 L294.9,196.5 L295.6,196.5 L296.4,196.6 L297.1,196.6 L297.9,196.6 L298.6,196.6 L299.4,196.6 L300.1,196.6 L300.9,196.7 L301.6,196.7 L302.4,196.7 L303.1,196.7 L303.9,196.7 L304.6,196.7 L305.4,196.8 L306.1,196.8 L306.9,196.8 L307.6,196.8 L308.4,196.8 L309.1,196.8 L309.9,196.8 L310.6,196.9 L311.4,196.9 L312.1,196.9 L312.9,196.9 L313.6,196.9 L314.4,196.9 L315.1,196.9 L315.9,196.9 L316.6,197.0 L317.4,197.0 L318.1,197.0 L318.9,197.0 L319.6,197.0 L320.4,197.0 L321.1,197.0 L321.9,197.0 L322.6,197.1 L323.4,197.1 L324.1,197.1 L324.9,197.1 L325.6,197.1 L326.4,197.1 L327.1,197.1 L327.9,197.1 L328.6,197.1 L329.4,197.2 L330.1,197.2 L330.9,197.2 L331.6,197.2 L332.4,197.2 L333.1,197.2 L333.9,197.2 L334.6,197.2 L335.4,197.2 L336.1,197.2 L336.9,197.2 L337.6,197.3 L338.4,197.3 L339.1,197.3 L339.9,197.3 L340.6,197.3 L341.4,197.3 L342.1,197.3 L342.9,197.3 L343.6,197.3 L344.4,197.3 L345.1,197.3 L345.9,197.4 L346.6,197.4 L347.4,197.4 L348.1,197.4 L348.9,197.4 L349.6,197.4 L350.4,197.4 L351.1,197.4 L351.9,197.4 L352.6,197.4 L353.4,197.4 L354.1,197.5 L354.9,197.5 L355.6,197.5 L356.4,197.5 L357.1,197.5 L357.9,197.5 L358.6,197.5 L359.4,197.5 L360.1,197.5 L360.9,197.5 L361.6,197.5 L362.4,197.5 L363.1,197.6 L363.9,197.6 L364.6,197.6 L365.4,197.6 L366.1,197.6 L366.9,197.6 L367.6,197.6 L368.4,197.6 L369.1,197.6 L369.9,197.6 L370.6,197.6 L371.4,197.7 L372.1,197.7 L372.9,197.7 L373.6,197.7 L374.4,197.7 L375.1,197.7 L375.9,197.7 L376.6,197.7 L377.0,197.7" fill="none" stroke="#8c564b" stroke-width="2.1" stroke-linejoin="round" stroke-linecap="butt"/>

<circle cx="324" cy="28.7" r="5" fill="#1f77b4"/>
<rect x="79.6" y="1.9" width="311" height="205.4" fill="none" stroke="#000" stroke-width="1.1"/>
<line x1="92.2" y1="207.3" x2="92.2" y2="212.2" stroke="#000" stroke-width="1.1"/><text x="92.2" y="227.9" text-anchor="middle" class="dv" font-size="13.9">1500</text><line x1="120.8" y1="207.3" x2="120.8" y2="210.1" stroke="#000" stroke-width="0.8"/><line x1="149.4" y1="207.3" x2="149.4" y2="212.2" stroke="#000" stroke-width="1.1"/><text x="149.4" y="227.9" text-anchor="middle" class="dv" font-size="13.9">1520</text><line x1="178.1" y1="207.3" x2="178.1" y2="210.1" stroke="#000" stroke-width="0.8"/><line x1="206.7" y1="207.3" x2="206.7" y2="212.2" stroke="#000" stroke-width="1.1"/><text x="206.7" y="227.9" text-anchor="middle" class="dv" font-size="13.9">1540</text><line x1="235.3" y1="207.3" x2="235.3" y2="210.1" stroke="#000" stroke-width="0.8"/><line x1="263.9" y1="207.3" x2="263.9" y2="212.2" stroke="#000" stroke-width="1.1"/><text x="263.9" y="227.9" text-anchor="middle" class="dv" font-size="13.9">1560</text><line x1="292.5" y1="207.3" x2="292.5" y2="210.1" stroke="#000" stroke-width="0.8"/><line x1="321.2" y1="207.3" x2="321.2" y2="212.2" stroke="#000" stroke-width="1.1"/><text x="321.2" y="227.9" text-anchor="middle" class="dv" font-size="13.9">1580</text><line x1="349.8" y1="207.3" x2="349.8" y2="210.1" stroke="#000" stroke-width="0.8"/><line x1="378.4" y1="207.3" x2="378.4" y2="212.2" stroke="#000" stroke-width="1.1"/><text x="378.4" y="227.9" text-anchor="middle" class="dv" font-size="13.9">1600</text>
<rect x="91.2" y="38.7" width="79.7" height="104.6" rx="2.5" fill="#fff" fill-opacity="0.8" stroke="#ccc" stroke-width="1"/><line x1="95" y1="47.8" x2="118.8" y2="47.8" stroke="#1f77b4" stroke-width="1.85"/><text x="127.3" y="51.9" class="dv" font-size="11.1">100 K</text><line x1="95" y1="64.8" x2="118.8" y2="64.8" stroke="#ff7f0e" stroke-width="1.85"/><text x="127.3" y="68.89999999999999" class="dv" font-size="11.1">300 K</text><line x1="95" y1="81.8" x2="118.8" y2="81.8" stroke="#2ca02c" stroke-width="1.85"/><text x="127.3" y="85.89999999999999" class="dv" font-size="11.1">500 K</text><line x1="95" y1="98.8" x2="118.8" y2="98.8" stroke="#d62728" stroke-width="1.85"/><text x="127.3" y="102.89999999999999" class="dv" font-size="11.1">700 K</text><line x1="95" y1="115.8" x2="118.8" y2="115.8" stroke="#9467bd" stroke-width="1.85"/><text x="127.3" y="119.89999999999999" class="dv" font-size="11.1">900 K</text><line x1="95" y1="132.8" x2="118.8" y2="132.8" stroke="#8c564b" stroke-width="1.85"/><text x="127.3" y="136.9" class="dv" font-size="11.1">1100 K</text>
<text x="96.5" y="27.6" class="ar" font-size="11">MLMD simulations</text>
<circle cx="221.8" cy="63.4" r="6.65" fill="#909090" stroke="#000" stroke-width="1.2"/><circle cx="234.4" cy="63.4" r="6.65" fill="#909090" stroke="#000" stroke-width="1.2"/><circle cx="202.8" cy="74.3" r="6.65" fill="#909090" stroke="#000" stroke-width="1.2"/><circle cx="215.4" cy="74.3" r="6.65" fill="#909090" stroke="#000" stroke-width="1.2"/><circle cx="240.8" cy="74.3" r="6.65" fill="#909090" stroke="#000" stroke-width="1.2"/><circle cx="253.4" cy="74.3" r="6.65" fill="#909090" stroke="#000" stroke-width="1.2"/><circle cx="196.5" cy="85.3" r="6.65" fill="#909090" stroke="#000" stroke-width="1.2"/><circle cx="221.8" cy="85.3" r="6.65" fill="#909090" stroke="#000" stroke-width="1.2"/><circle cx="234.4" cy="85.3" r="6.65" fill="#909090" stroke="#000" stroke-width="1.2"/><circle cx="259.7" cy="85.3" r="6.65" fill="#909090" stroke="#000" stroke-width="1.2"/><circle cx="202.8" cy="96.3" r="6.65" fill="#909090" stroke="#000" stroke-width="1.2"/><circle cx="215.4" cy="96.3" r="6.65" fill="#909090" stroke="#000" stroke-width="1.2"/><circle cx="240.8" cy="96.3" r="6.65" fill="#909090" stroke="#000" stroke-width="1.2"/><circle cx="253.4" cy="96.3" r="6.65" fill="#909090" stroke="#000" stroke-width="1.2"/><circle cx="221.8" cy="107.2" r="6.65" fill="#909090" stroke="#000" stroke-width="1.2"/><circle cx="234.4" cy="107.2" r="6.65" fill="#909090" stroke="#000" stroke-width="1.2"/><circle cx="186.7" cy="85.3" r="2.9" fill="#fff" stroke="#000" stroke-width="1.1"/><circle cx="269.5" cy="85.3" r="2.9" fill="#fff" stroke="#000" stroke-width="1.1"/><circle cx="197.9" cy="104.7" r="2.9" fill="#fff" stroke="#000" stroke-width="1.1"/><circle cx="216.9" cy="115.7" r="2.9" fill="#fff" stroke="#000" stroke-width="1.1"/><circle cx="197.9" cy="65.9" r="2.9" fill="#fff" stroke="#000" stroke-width="1.1"/><circle cx="216.9" cy="54.9" r="2.9" fill="#fff" stroke="#000" stroke-width="1.1"/><circle cx="258.3" cy="104.7" r="2.9" fill="#fff" stroke="#000" stroke-width="1.1"/><circle cx="239.3" cy="115.7" r="2.9" fill="#fff" stroke="#000" stroke-width="1.1"/><circle cx="258.3" cy="65.9" r="2.9" fill="#fff" stroke="#000" stroke-width="1.1"/><circle cx="239.3" cy="54.9" r="2.9" fill="#fff" stroke="#000" stroke-width="1.1"/>
<text x="196.6" y="130.7" class="ar" font-size="10.9">pyrene cation</text>
<text x="161.6" y="248.6" class="dv" font-size="14.55">Wavenumber<tspan dx="-2.5"> [cm</tspan><tspan font-size="10" dy="-4.8">−1</tspan><tspan dy="4.8">]</tspan></text>
<text transform="translate(71.7,168.0) rotate(-90)" class="dv" font-size="14.6">IR intensity [a.u.]</text>
</svg>
</body></html>
